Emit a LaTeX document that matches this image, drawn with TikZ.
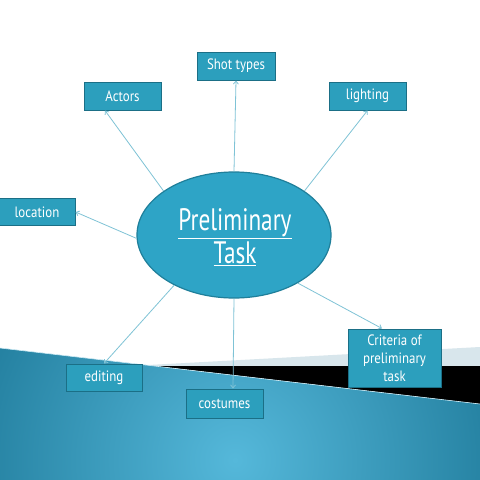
\documentclass[tikz,border=0pt]{standalone}
\usepackage{fontspec}
\setmainfont{PT Sans}[FakeStretch=0.75]
\newfontfamily\boxfont{PT Sans}[FakeStretch=0.86]
\usetikzlibrary{arrows.meta,shadings,shapes.geometric}
\definecolor{boxfill}{HTML}{2C9FBD}
\definecolor{boxedge}{HTML}{1B6F86}
\definecolor{ellfill}{HTML}{2EA4C6}
\definecolor{elledge}{HTML}{1F7F9A}
\definecolor{linkcol}{HTML}{7FC3D6}
\definecolor{tealdark}{HTML}{0B6483}
\definecolor{teallight}{HTML}{55B8DA}
\definecolor{greyband}{HTML}{D8E6EC}
\tikzset{
  topic/.style={draw=boxedge, line width=1pt, fill=boxfill, text=white,
    font=\boxfont\fontsize{15}{16}\selectfont, inner sep=0pt, align=center},
  link/.style={draw=linkcol, line width=0.8pt, -{Straight Barb[length=3pt,width=5pt]}},
}
\begin{document}
\begin{tikzpicture}[x=1pt,y=-1pt]
\useasboundingbox (0,0) rectangle (480,480);
\fill[white] (0,0) rectangle (480,480);
% background band
\fill[greyband] (130,366) -- (480,347) -- (480,366) -- cycle;
\fill[black] (155,366) -- (480,366) -- (480,404) -- cycle;
\begin{scope}
  \clip (0,348) -- (480,404) -- (480,480) -- (0,480) -- cycle;
  \shade[inner color=teallight, outer color=tealdark] (235,460) circle (400);
\end{scope}
\draw[white!70!teallight, line width=0.6pt] (0,348) -- (480,404);
% central ellipse
\node[ellipse, draw=elledge, line width=1.2pt, fill=ellfill,
      minimum width=194pt, minimum height=126pt, inner sep=0pt] (ell) at (234,235) {};
\node[text=white, font=\fontsize{31}{33}\selectfont, align=center] (title) at (235,237)
  {\underline{Preliminary}\\\underline{Task}};
% topic boxes
\node[topic, minimum width=78pt, minimum height=28pt] (shot) at (236,66) {Shot types};
\node[topic, minimum width=77pt, minimum height=28pt] (actors) at (122.5,96) {Actors};
\node[topic, minimum width=77pt, minimum height=28pt] (light) at (367.5,96) {lighting};
\node[topic, minimum width=76pt, minimum height=27pt] (loc) at (37,212) {location};
\node[topic, minimum width=76pt, minimum height=27pt] (edit) at (104,377.5) {editing};
\node[topic, minimum width=77pt, minimum height=29pt] (cost) at (224.5,403.5) {costumes};
\node[topic, minimum width=93pt, minimum height=58pt, font=\boxfont\fontsize{15}{18}\selectfont] (crit) at (394.5,358) {Criteria of\\preliminary\\task};
% connectors
\draw[link] (ell.north) -- (shot.south);
\draw[link] (ell.148) -- ([xshift=-17.5pt]actors.south);
\draw[link] (ell.32) -- (light.south);
\draw[link] (ell.182) -- (loc.east);
\draw[link] (ell.220) -- (edit.north);
\draw[link] (ell.south) -- ([xshift=8.5pt]cost.north);
\draw[link] (ell.323) -- ([xshift=-12.5pt]crit.north);
\end{tikzpicture}
\end{document}
